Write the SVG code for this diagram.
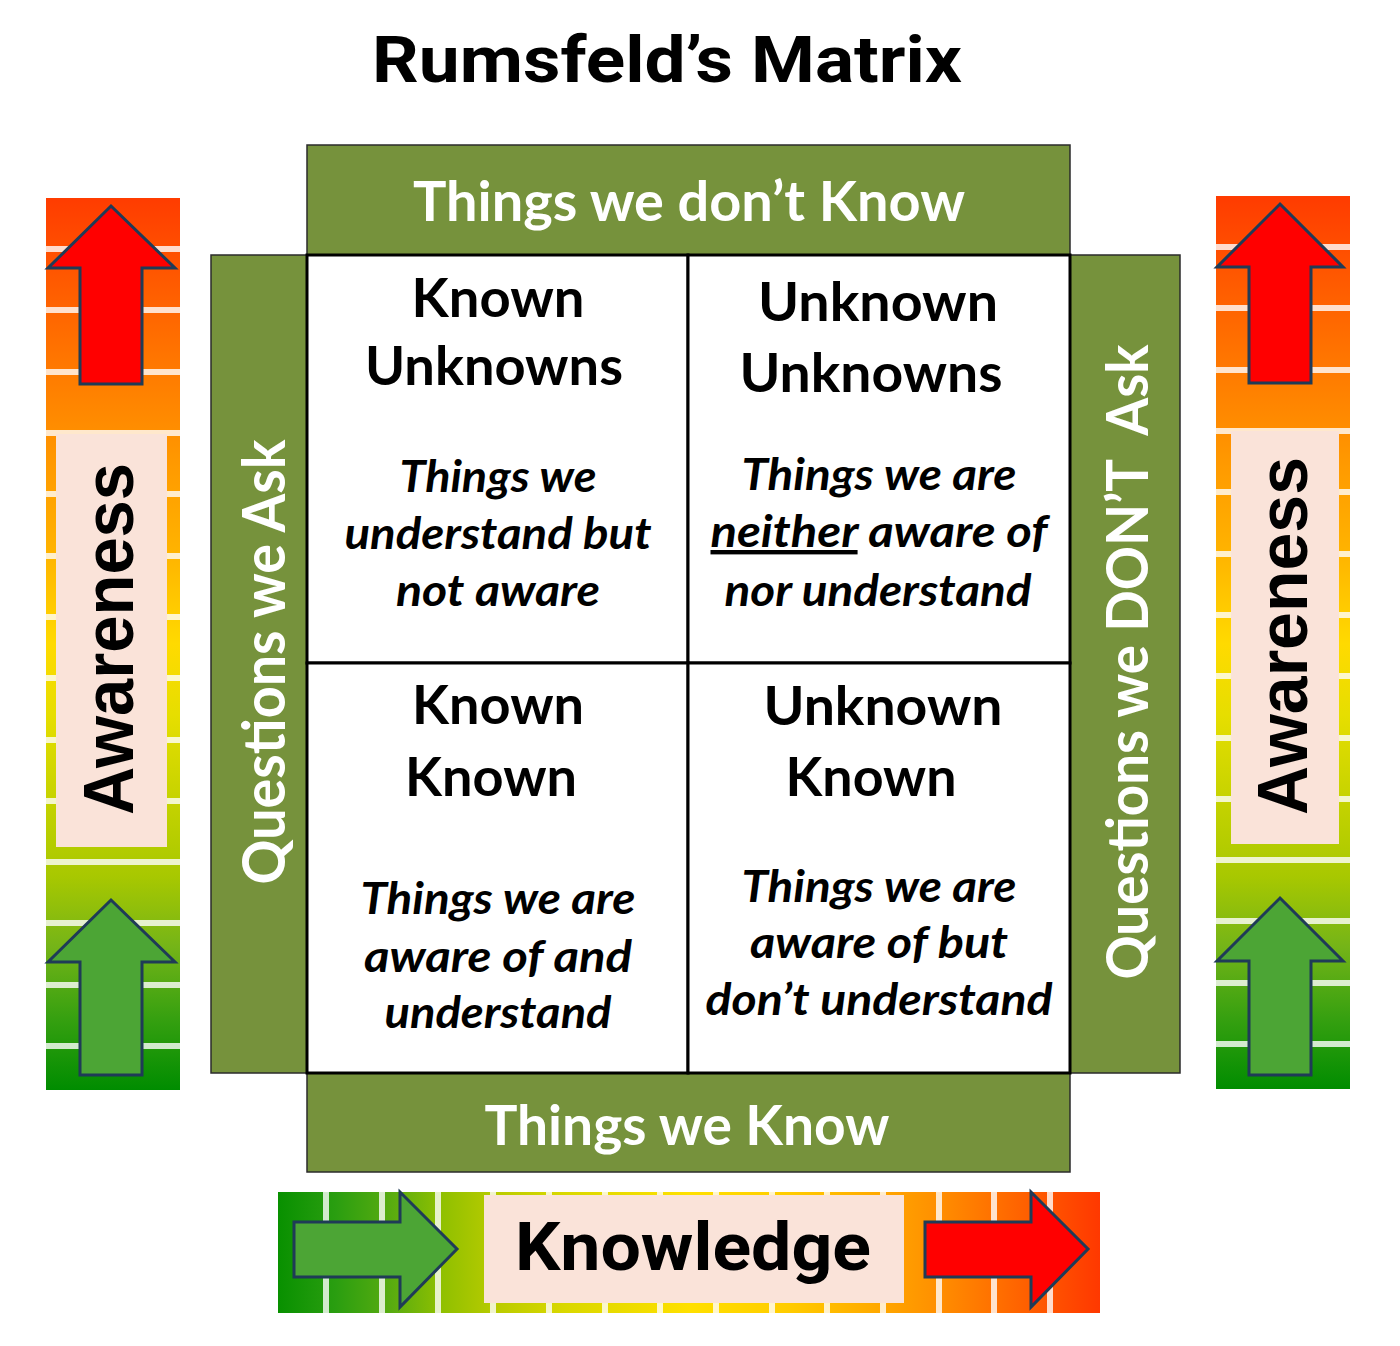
<svg xmlns="http://www.w3.org/2000/svg" width="1400" height="1346" viewBox="0 0 1400 1346">
<defs>
<linearGradient id="gv" gradientUnits="userSpaceOnUse" x1="0" y1="198" x2="0" y2="1090">
<stop offset="0" stop-color="#ff3c00"/>
<stop offset="0.1" stop-color="#ff5c00"/>
<stop offset="0.2" stop-color="#ff7c00"/>
<stop offset="0.3" stop-color="#ff9a00"/>
<stop offset="0.4" stop-color="#ffb400"/>
<stop offset="0.5" stop-color="#ffda00"/>
<stop offset="0.58" stop-color="#e6de00"/>
<stop offset="0.68" stop-color="#c4d200"/>
<stop offset="0.76" stop-color="#a8c800"/>
<stop offset="0.84" stop-color="#74b418"/>
<stop offset="0.92" stop-color="#36a010"/>
<stop offset="1" stop-color="#008c00"/>
</linearGradient>
<linearGradient id="gh" gradientUnits="userSpaceOnUse" x1="278" y1="0" x2="1100" y2="0">
<stop offset="0" stop-color="#089000"/>
<stop offset="0.07" stop-color="#2a9e10"/>
<stop offset="0.14" stop-color="#5aac10"/>
<stop offset="0.2" stop-color="#90c000"/>
<stop offset="0.27" stop-color="#bccc00"/>
<stop offset="0.35" stop-color="#dad800"/>
<stop offset="0.5" stop-color="#ffe000"/>
<stop offset="0.62" stop-color="#ffcc00"/>
<stop offset="0.72" stop-color="#ffac00"/>
<stop offset="0.8" stop-color="#ff9000"/>
<stop offset="0.9" stop-color="#ff6400"/>
<stop offset="1" stop-color="#ff3800"/>
</linearGradient>
<style>
.green{fill:#76923c;stroke:#2b2b2b;stroke-width:1.5}
.cell{fill:#ffffff;stroke:#000;stroke-width:3}
.gap{fill:#ffffff;opacity:0.8}
.pink{fill:#fae3d9}
.arr{stroke:#1f3b57;stroke-width:3;stroke-linejoin:miter}
.red{fill:#ff0000}
.grn{fill:#4ca535}
.wt{fill:#ffffff;font-family:Lato,"Open Sans",sans-serif;font-weight:bold;text-anchor:middle;white-space:pre}
.hd{fill:#000;font-family:Lato,"Open Sans",sans-serif;font-weight:bold;font-size:53px;text-anchor:middle}
.it{fill:#000;font-family:Lato,"Open Sans",sans-serif;font-weight:bold;font-style:italic;font-size:44px;text-anchor:middle}
.aw{fill:#000;font-family:"Liberation Sans",Arial,sans-serif;font-weight:bold;font-size:70px;text-anchor:middle}
</style>
</defs>
<rect width="1400" height="1346" fill="#ffffff"/>

<g id="title">
<text x="667" y="82" font-family="Roboto,'Liberation Sans',sans-serif" font-weight="bold" font-size="64" text-anchor="middle" textLength="590" lengthAdjust="spacingAndGlyphs">Rumsfeld’s Matrix</text>
</g>

<g id="awareness-left">
<rect x="46" y="198" width="134" height="892" fill="url(#gv)"/>
<g class="gap">
<rect x="46" y="246" width="134" height="6"/><rect x="46" y="307" width="134" height="6"/><rect x="46" y="369" width="134" height="6"/><rect x="46" y="430" width="134" height="6"/><rect x="46" y="491" width="134" height="6"/><rect x="46" y="553" width="134" height="6"/><rect x="46" y="614" width="134" height="6"/><rect x="46" y="675" width="134" height="6"/><rect x="46" y="737" width="134" height="6"/><rect x="46" y="798" width="134" height="6"/><rect x="46" y="859" width="134" height="6"/><rect x="46" y="920" width="134" height="6"/><rect x="46" y="982" width="134" height="6"/><rect x="46" y="1043" width="134" height="6"/>
</g>
<rect class="pink" x="56" y="434" width="111" height="413"/>
<text class="aw" transform="translate(133,639) rotate(-90)" textLength="352" lengthAdjust="spacingAndGlyphs">Awareness</text>
<polygon class="arr red" points="111,206 175,268 142,268 142,384 80,384 80,268 48,268"/>
<polygon class="arr grn" points="111,900 175,962 142,962 142,1075 80,1075 80,962 48,962"/>
</g>

<g id="awareness-right">
<rect x="1216" y="196" width="134" height="893" fill="url(#gv)"/>
<g class="gap">
<rect x="1216" y="244" width="134" height="6"/><rect x="1216" y="305" width="134" height="6"/><rect x="1216" y="367" width="134" height="6"/><rect x="1216" y="428" width="134" height="6"/><rect x="1216" y="489" width="134" height="6"/><rect x="1216" y="551" width="134" height="6"/><rect x="1216" y="612" width="134" height="6"/><rect x="1216" y="673" width="134" height="6"/><rect x="1216" y="735" width="134" height="6"/><rect x="1216" y="796" width="134" height="6"/><rect x="1216" y="857" width="134" height="6"/><rect x="1216" y="918" width="134" height="6"/><rect x="1216" y="980" width="134" height="6"/><rect x="1216" y="1041" width="134" height="6"/>
</g>
<rect class="pink" x="1231" y="431" width="108" height="413"/>
<text class="aw" transform="translate(1307,636) rotate(-90)" textLength="358" lengthAdjust="spacingAndGlyphs">Awareness</text>
<polygon class="arr red" points="1280,204 1343,267 1311,267 1311,383 1249,383 1249,267 1217,267"/>
<polygon class="arr grn" points="1280,898 1343,961 1311,961 1311,1075 1249,1075 1249,961 1217,961"/>
</g>

<g id="knowledge-bar">
<rect x="278" y="1192" width="822" height="121" fill="url(#gh)"/>
<g class="gap">
<rect x="323" y="1192" width="6" height="121"/><rect x="379" y="1192" width="6" height="121"/><rect x="435" y="1192" width="6" height="121"/><rect x="490" y="1192" width="6" height="121"/><rect x="546" y="1192" width="6" height="121"/><rect x="602" y="1192" width="6" height="121"/><rect x="657" y="1192" width="6" height="121"/><rect x="713" y="1192" width="6" height="121"/><rect x="769" y="1192" width="6" height="121"/><rect x="824" y="1192" width="6" height="121"/><rect x="880" y="1192" width="6" height="121"/><rect x="936" y="1192" width="6" height="121"/><rect x="991" y="1192" width="6" height="121"/><rect x="1047" y="1192" width="6" height="121"/>
</g>
<rect class="pink" x="484" y="1195" width="420" height="108"/>
<text x="693" y="1270" font-family="Roboto,'Liberation Sans',sans-serif" font-weight="bold" font-size="66" text-anchor="middle" textLength="356" lengthAdjust="spacingAndGlyphs">Knowledge</text>
<polygon class="arr grn" points="294,1222 400,1222 400,1192 457,1249 400,1307 400,1277 294,1277"/>
<polygon class="arr red" points="925,1222 1031,1222 1031,1192 1088,1249 1031,1307 1031,1277 925,1277"/>
</g>

<g id="things-dont-know">
<rect class="green" x="307" y="145" width="763" height="110"/>
<text class="wt" x="689" y="221" font-size="56" textLength="552" lengthAdjust="spacingAndGlyphs">Things we don’t Know</text>
</g>

<g id="things-know">
<rect class="green" x="307" y="1073" width="763" height="99"/>
<text class="wt" x="687" y="1145" font-size="56" textLength="405" lengthAdjust="spacingAndGlyphs">Things we Know</text>
</g>

<g id="questions-ask">
<rect class="green" x="211" y="255" width="96" height="818"/>
<text class="wt" font-size="60" transform="translate(285,662) rotate(-90)" textLength="445" lengthAdjust="spacingAndGlyphs">Questions we Ask</text>
</g>

<g id="questions-dont-ask">
<rect class="green" x="1070" y="255" width="110" height="818"/>
<text class="wt" font-size="58" transform="translate(1148,662) rotate(-90)" textLength="635" lengthAdjust="spacingAndGlyphs">Questions we DON’T  Ask</text>
</g>

<g id="known-unknowns">
<rect class="cell" x="307" y="255" width="381" height="408"/>
<text class="hd" x="498" y="317" textLength="173" lengthAdjust="spacingAndGlyphs">Known</text>
<text class="hd" x="494" y="385" textLength="258" lengthAdjust="spacingAndGlyphs">Unknowns</text>
<text class="it" x="498" y="492" textLength="197" lengthAdjust="spacingAndGlyphs">Things we</text>
<text class="it" x="498" y="549" textLength="307" lengthAdjust="spacingAndGlyphs">understand but</text>
<text class="it" x="498" y="606" textLength="204" lengthAdjust="spacingAndGlyphs">not aware</text>
</g>

<g id="unknown-unknowns">
<rect class="cell" x="688" y="255" width="382" height="408"/>
<text class="hd" x="878" y="321" textLength="240" lengthAdjust="spacingAndGlyphs">Unknown</text>
<text class="hd" x="871" y="392" textLength="263" lengthAdjust="spacingAndGlyphs">Unknowns</text>
<text class="it" x="879" y="490" textLength="275" lengthAdjust="spacingAndGlyphs">Things we are</text>
<text class="it" x="879" y="547" textLength="337" lengthAdjust="spacingAndGlyphs"><tspan text-decoration="underline">neither</tspan> aware of</text>
<text class="it" x="878" y="606" textLength="307" lengthAdjust="spacingAndGlyphs">nor understand</text>
</g>

<g id="known-known">
<rect class="cell" x="307" y="663" width="381" height="410"/>
<text class="hd" x="498" y="724" textLength="172" lengthAdjust="spacingAndGlyphs">Known</text>
<text class="hd" x="491" y="796" textLength="172" lengthAdjust="spacingAndGlyphs">Known</text>
<text class="it" x="498" y="914" textLength="275" lengthAdjust="spacingAndGlyphs">Things we are</text>
<text class="it" x="498" y="972" textLength="268" lengthAdjust="spacingAndGlyphs">aware of and</text>
<text class="it" x="498" y="1028" textLength="227" lengthAdjust="spacingAndGlyphs">understand</text>
</g>

<g id="unknown-known">
<rect class="cell" x="688" y="663" width="382" height="410"/>
<text class="hd" x="883" y="725" textLength="239" lengthAdjust="spacingAndGlyphs">Unknown</text>
<text class="hd" x="871" y="796" textLength="171" lengthAdjust="spacingAndGlyphs">Known</text>
<text class="it" x="879" y="902" textLength="275" lengthAdjust="spacingAndGlyphs">Things we are</text>
<text class="it" x="879" y="958" textLength="258" lengthAdjust="spacingAndGlyphs">aware of but</text>
<text class="it" x="879" y="1015" textLength="347" lengthAdjust="spacingAndGlyphs">don’t understand</text>
</g>

<g id="connectors"></g>
</svg>
